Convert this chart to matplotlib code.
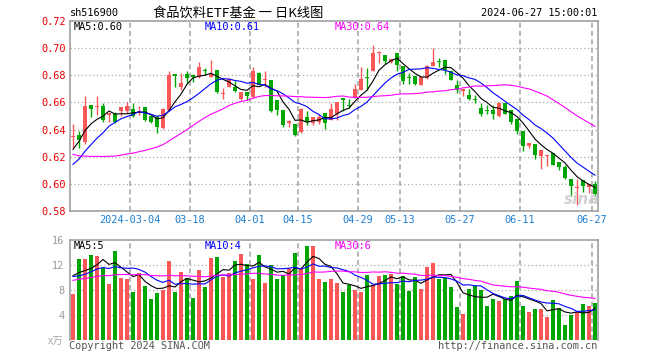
import numpy as np
import matplotlib
matplotlib.use("Agg")
import matplotlib.pyplot as plt

# Daily K-line data, 2024-02-19 .. 2024-06-27 (88 trading days)
opens = [0.6348, 0.6362, 0.6307, 0.6578, 0.6569, 0.6573, 0.6508, 0.6515, 0.6537, 0.6537,
         0.6549, 0.6530, 0.6564, 0.6501, 0.6489, 0.6411, 0.6544, 0.6811, 0.6714, 0.6811,
         0.6805, 0.6787, 0.6835, 0.6787, 0.6840, 0.6664, 0.6714, 0.6714, 0.6624, 0.6678,
         0.6641, 0.6816, 0.6767, 0.6762, 0.6617, 0.6544, 0.6447, 0.6442, 0.6382, 0.6491,
         0.6447, 0.6453, 0.6520, 0.6472, 0.6515, 0.6636, 0.6575, 0.6641, 0.6695, 0.6784,
         0.6830, 0.6966, 0.6952, 0.6901, 0.6964, 0.6872, 0.6784, 0.6792, 0.6731, 0.6782,
         0.6872, 0.6903, 0.6913, 0.6835, 0.6726, 0.6682, 0.6658, 0.6622, 0.6561, 0.6544,
         0.6547, 0.6498, 0.6595, 0.6542, 0.6481, 0.6389, 0.6282, 0.6295, 0.6202, 0.6202,
         0.6227, 0.6159, 0.6122, 0.6038, 0.5972, 0.6028, 0.5979, 0.6001]
highs = [0.6442, 0.6387, 0.6646, 0.6578, 0.6646, 0.6598, 0.6520, 0.6532, 0.6569, 0.6602,
         0.6593, 0.6573, 0.6564, 0.6501, 0.6508, 0.6561, 0.6835, 0.6811, 0.6818, 0.6835,
         0.6812, 0.6896, 0.6855, 0.6913, 0.6840, 0.6707, 0.6780, 0.6758, 0.6678, 0.6678,
         0.6864, 0.6823, 0.6835, 0.6762, 0.6617, 0.6544, 0.6472, 0.6442, 0.6556, 0.6539,
         0.6496, 0.6515, 0.6520, 0.6593, 0.6605, 0.6636, 0.6622, 0.6738, 0.6864, 0.6852,
         0.7024, 0.6976, 0.6952, 0.6920, 0.6964, 0.6872, 0.6818, 0.6792, 0.6790, 0.6876,
         0.7000, 0.6927, 0.6913, 0.6835, 0.6767, 0.6699, 0.6699, 0.6658, 0.6595, 0.6578,
         0.6578, 0.6595, 0.6595, 0.6542, 0.6481, 0.6389, 0.6304, 0.6295, 0.6251, 0.6215,
         0.6227, 0.6159, 0.6142, 0.6038, 0.6038, 0.6028, 0.5996, 0.6021]
lows = [0.6265, 0.6265, 0.6297, 0.6496, 0.6508, 0.6459, 0.6455, 0.6447, 0.6501, 0.6520,
        0.6496, 0.6508, 0.6464, 0.6447, 0.6375, 0.6404, 0.6539, 0.6714, 0.6695, 0.6738,
        0.6750, 0.6780, 0.6799, 0.6787, 0.6670, 0.6624, 0.6714, 0.6678, 0.6617, 0.6617,
        0.6636, 0.6726, 0.6714, 0.6532, 0.6508, 0.6418, 0.6418, 0.6350, 0.6375, 0.6435,
        0.6435, 0.6440, 0.6404, 0.6467, 0.6472, 0.6540, 0.6556, 0.6636, 0.6690, 0.6695,
        0.6830, 0.6888, 0.6884, 0.6888, 0.6830, 0.6733, 0.6738, 0.6726, 0.6726, 0.6772,
        0.6867, 0.6860, 0.6811, 0.6762, 0.6673, 0.6651, 0.6615, 0.6595, 0.6498, 0.6518,
        0.6481, 0.6493, 0.6513, 0.6438, 0.6367, 0.6239, 0.6263, 0.6185, 0.6113, 0.6135,
        0.6137, 0.6105, 0.6033, 0.5912, 0.5844, 0.5943, 0.5936, 0.5900]
closes = [0.6355, 0.6326, 0.6573, 0.6552, 0.6573, 0.6467, 0.6520, 0.6459, 0.6564, 0.6573,
          0.6503, 0.6539, 0.6472, 0.6459, 0.6418, 0.6549, 0.6804, 0.6792, 0.6743, 0.6782,
          0.6785, 0.6864, 0.6830, 0.6811, 0.6678, 0.6666, 0.6770, 0.6685, 0.6678, 0.6649,
          0.6835, 0.6731, 0.6770, 0.6537, 0.6544, 0.6435, 0.6462, 0.6362, 0.6552, 0.6459,
          0.6491, 0.6491, 0.6447, 0.6552, 0.6600, 0.6617, 0.6573, 0.6702, 0.6775, 0.6780,
          0.6961, 0.6968, 0.6903, 0.6920, 0.6879, 0.6758, 0.6782, 0.6733, 0.6787, 0.6872,
          0.6901, 0.6899, 0.6840, 0.6767, 0.6690, 0.6699, 0.6622, 0.6619, 0.6518, 0.6540,
          0.6518, 0.6595, 0.6518, 0.6457, 0.6392, 0.6282, 0.6304, 0.6215, 0.6251, 0.6215,
          0.6142, 0.6125, 0.6040, 0.5984, 0.5977, 0.5984, 0.5996, 0.5924]
# volume, 万手
volumes = [7.35, 12.9, 12.9, 13.6, 13.5, 11.5, 9.0, 14.2, 10.0, 9.8,
           7.7, 10.7, 8.65, 6.6, 7.5, 8.0, 12.6, 7.7, 10.9, 10.0,
           6.7, 11.2, 8.5, 13.2, 13.3, 10.1, 10.7, 12.7, 13.8, 12.2,
           9.8, 13.6, 9.1, 12.0, 9.8, 10.4, 11.5, 14.0, 11.3, 15.1,
           15.0, 9.8, 9.3, 9.7, 9.1, 7.7, 8.8, 8.0, 7.7, 10.4,
           8.75, 10.3, 10.4, 10.6, 9.0, 10.3, 7.8, 10.1, 8.2, 11.7,
           12.4, 9.8, 10.0, 8.5, 5.3, 4.2, 8.1, 8.6, 7.95, 5.4,
           6.6, 6.2, 6.5, 7.0, 9.5, 5.4, 4.45, 4.9, 4.9, 3.65,
           6.4, 5.15, 2.35, 3.97, 4.55, 5.7, 5.5, 5.9]

# earlier sessions (before the window), only used to warm up the moving averages
prev_closes = [0.668, 0.664, 0.660, 0.655, 0.651, 0.646, 0.642, 0.637, 0.633, 0.629,
               0.624, 0.616, 0.610, 0.606, 0.600, 0.598, 0.596, 0.594, 0.592, 0.589,
               0.594, 0.600, 0.606, 0.610, 0.607, 0.603, 0.618, 0.630, 0.6405]
prev_volumes = [8.0, 8.6, 9.4, 7.8, 8.2, 9.0, 10.1, 8.7, 9.3, 9.8,
                8.9, 9.6, 10.4, 9.1, 8.5, 9.7, 10.2, 9.9, 10.6, 9.2,
                11.5, 10.8, 9.5, 9.0, 9.2, 10.5, 11.2, 12.0, 10.45]

tick_days = [10, 20, 30, 38, 48, 55, 65, 75, 87]
tick_labels = ["2024-03-04", "03-18", "04-01", "04-15", "04-29",
               "05-13", "05-27", "06-11", "06-27"]

W, H = 660, 360
RED, GREEN = "#fa5858", "#02a602"
GRID = "#aaaaaa"
MONO = "DejaVu Sans Mono"
CJK = ["Noto Sans CJK SC", "DejaVu Sans"]


def moving_avg(prev, vals, n):
    full = np.array(prev + vals, dtype=float)
    out = np.convolve(full, np.ones(n) / n, mode="valid")
    return out[-len(vals):]


def px(x, y):
    return x / W, 1 - y / H


x = np.arange(len(closes))
o, h, l, c = map(np.array, (opens, highs, lows, closes))
up = c >= o
colors = np.where(up, RED, GREEN)

fig = plt.figure(figsize=(W / 100, H / 100), dpi=100)
fig.patch.set_facecolor("white")

# ---- price panel
ax = fig.add_axes([70 / W, 1 - 211 / H, 528 / W, 190 / H])
ax.set_xlim(-0.5, len(x) - 0.5)
ax.set_ylim(0.58, 0.72)
yt = np.arange(0.58, 0.7201, 0.02)
ax.set_yticks(yt)
ax.set_yticklabels([f"{v:.2f}" for v in yt], color="#ee0000", fontsize=7.4, family=MONO)
for v in yt[1:-1]:
    ax.axhline(v, color=GRID, lw=0.9, ls=(0, (1, 2)), zorder=0)
for d in tick_days:
    ax.axvline(d - 0.5, color=GRID, lw=1.2, ls=(0, (3, 2)), zorder=0)
ax.set_xticks([d - 0.5 for d in tick_days])
ax.set_xticklabels(tick_labels, color="#1a7fd6", fontsize=7.4, family=MONO)
ax.tick_params(length=0, pad=3)
for s in ax.spines.values():
    s.set_color("#999999")
    s.set_linewidth(1.1)

ax.vlines(x, l, h, colors=colors, lw=1, zorder=2)
body = np.maximum(np.abs(c - o), 0.0006)
ax.bar(x, body, bottom=np.minimum(o, c), width=0.75, color=colors, lw=0, zorder=3)

ma5 = moving_avg(prev_closes, closes, 5)
ma10 = moving_avg(prev_closes, closes, 10)
ma30 = moving_avg(prev_closes, closes, 30)
ax.plot(x, ma5, color="black", lw=0.8, zorder=4)
ax.plot(x, ma10, color="#0000ff", lw=0.8, zorder=4)
ax.plot(x, ma30, color="#ff00ff", lw=0.8, zorder=4)

fig.text(*px(74, 27), f"MA5:{ma5[-1]:.2f}", color="black", fontsize=7.4, family=MONO, va="center")
fig.text(*px(205, 27), f"MA10:{ma10[-1]:.2f}", color="#0000ff", fontsize=7.4, family=MONO, va="center")
fig.text(*px(335, 27), f"MA30:{ma30[-1]:.2f}", color="#ff00ff", fontsize=7.4, family=MONO, va="center")
fig.text(*px(582, 199), "sina", color="#cccccc", fontsize=11, fontweight="bold",
         style="italic", ha="center", va="center", alpha=0.9)

# ---- volume panel
av = fig.add_axes([70 / W, 1 - 340 / H, 528 / W, 100 / H])
av.set_xlim(-0.5, len(x) - 0.5)
av.set_ylim(0, 16)
av.set_yticks([4, 8, 12, 16])
av.set_yticklabels(["4", "8", "12", "16"], color="#999999", fontsize=7.4, family=MONO)
av.set_xticks([])
av.tick_params(length=0, pad=4)
for v in (4, 8, 12):
    av.axhline(v, color=GRID, lw=0.9, ls=(0, (1, 2)), zorder=0)
for d in tick_days:
    av.axvline(d - 0.5, color=GRID, lw=1.2, ls=(0, (3, 2)), zorder=0)
for s in av.spines.values():
    s.set_color("#999999")
    s.set_linewidth(1.1)
av.spines["bottom"].set_visible(False)

av.bar(x, volumes, width=0.75, color=colors, lw=0, zorder=2)
vma5 = moving_avg(prev_volumes, volumes, 5)
vma10 = moving_avg(prev_volumes, volumes, 10)
vma30 = moving_avg(prev_volumes, volumes, 30)
av.plot(x, vma5, color="black", lw=0.8, zorder=4)
av.plot(x, vma10, color="#0000ff", lw=0.8, zorder=4)
av.plot(x, vma30, color="#ff00ff", lw=0.8, zorder=4)

fig.text(*px(74, 246), f"MA5:{int(vma5[-1])}", color="black", fontsize=7.4, family=MONO, va="center")
fig.text(*px(205, 246), f"MA10:{int(vma10[-1])}", color="#0000ff", fontsize=7.4, family=MONO, va="center")
fig.text(*px(335, 246), f"MA30:{int(vma30[-1])}", color="#ff00ff", fontsize=7.4, family=MONO, va="center")

# ---- header / footer texts
fig.text(*px(70, 13), "sh516900", color="black", fontsize=7.4, family=MONO, va="center")
fig.text(*px(238, 13), "食品饮料ETF基金 一 日K线图", color="black", fontsize=9.5,
         family=CJK, ha="center", va="center")
fig.text(*px(597, 13), "2024-06-27 15:00:01", color="black", fontsize=7.4, family=MONO,
         ha="right", va="center")
fig.text(*px(63, 342), "x万", color="#aaaaaa", fontsize=7.5, family=CJK, ha="right", va="center")
fig.text(*px(69, 346), "Copyright 2024 SINA.COM", color="#555555", fontsize=7.4, family=MONO, va="center")
fig.text(*px(597, 346), "http://finance.sina.com.cn", color="#555555", fontsize=7.4,
         family=MONO, ha="right", va="center")

fig.savefig("out.png", dpi=100)
